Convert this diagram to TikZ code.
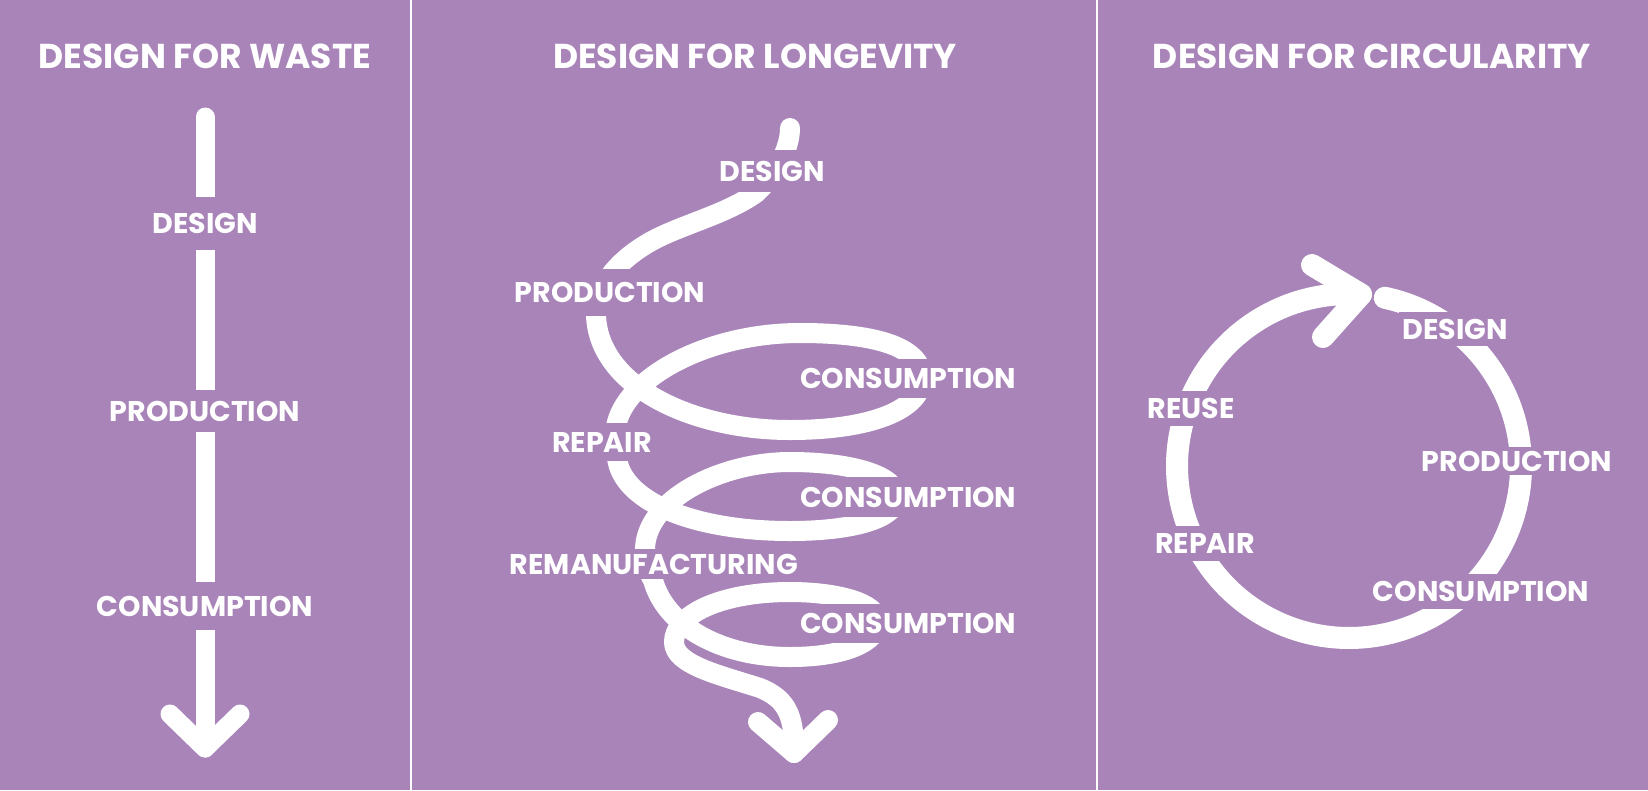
\documentclass[tikz,border=0pt]{standalone}
\usepackage{fontspec}
\setmainfont{Poppins}
\definecolor{bg}{HTML}{A884B9}
\newcommand\lblfont{\bfseries\fontsize{28.5}{28.5}\selectfont}
\newcommand\ttlfont{\bfseries\fontsize{34.5}{34.5}\selectfont}
\newlength\lblcap \newlength\ttlcap
\AtBeginDocument{\settoheight{\lblcap}{\lblfont H}\settoheight{\ttlcap}{\ttlfont H}}
\tikzset{
  lbl/.style={text=white, fill=bg, inner xsep=3pt, inner ysep=0pt, text height=\lblcap, text depth=0pt, font=\lblfont},
  ttl/.style={text=white, inner sep=0pt, text height=\ttlcap, text depth=0pt, font=\ttlfont},
  flowA/.style={draw=white, line width=19pt, line cap=round, line join=round},
  flowB/.style={draw=white, line width=20pt, line cap=round, line join=round},
  flowC/.style={draw=white, line width=22pt, line cap=round, line join=round},
  divider/.style={draw=white, line width=2pt}
}
\begin{document}
\begin{tikzpicture}[x=1pt,y=-1pt]
\fill[bg] (0,0) rectangle (1648,790);
\useasboundingbox (0,0) rectangle (1648,790);
% dividers
\coordinate (d1t) at (411,0); \coordinate (d1b) at (411,790);
\coordinate (d2t) at (1097,0); \coordinate (d2b) at (1097,790);
\draw[divider] (d1t) -- (d1b);
\draw[divider] (d2t) -- (d2b);

% ---------- left panel ----------
\coordinate (wtop) at (205,117);
\coordinate (wtip) at (205,748);
\coordinate (wl) at (170,714);
\coordinate (wr) at (240,714);
\draw[flowA] (wtop) -- (wtip);
\draw[flowA] (wl) -- (wtip) -- (wr);
\node[ttl] (t1) at (205,56) {DESIGN FOR WASTE};
\node[lbl, minimum height=53pt] (wdesign) at (205,223) {DESIGN};
\node[lbl, minimum height=42pt] (wprod) at (205,411) {PRODUCTION};
\node[lbl, minimum height=48pt] (wcons) at (205,606) {CONSUMPTION};

% ---------- middle panel ----------
\coordinate (mtop) at (790,128);
\coordinate (mtip) at (794,753);
\coordinate (ml) at (758,722);
\coordinate (mr) at (828,720);
\draw[flowB] (mtop)
  .. controls (790,150) and (775,175) .. (756,193)
  .. controls (725,215) and (680,225) .. (650,242)
  .. controls (622,258) and (597,282) .. (596,315)
  .. controls (598,385) and (690,430) .. (790,430)
  .. controls (870,430) and (922,410) .. (922,378)
  .. controls (922,345) and (870,333) .. (800,333)
  .. controls (710,333) and (630,375) .. (617,422)
  .. controls (613,436) and (614,448) .. (617,458)
  .. controls (622,500) and (690,531) .. (790,531)
  .. controls (855,531) and (897,518) .. (897,497)
  .. controls (897,475) and (850,462) .. (790,462)
  .. controls (720,462) and (645,500) .. (645,550)
  .. controls (645,562) and (648,572) .. (653,580)
  .. controls (665,625) and (720,657) .. (790,657)
  .. controls (845,657) and (878,642) .. (878,622)
  .. controls (878,602) and (835,592) .. (790,592)
  .. controls (720,592) and (674,615) .. (674,642)
  .. controls (674,665) and (720,675) .. (760,688)
  .. controls (790,700) and (794,720) .. (mtip);
\draw[flowB] (ml) -- (mtip) -- (mr);
\node[ttl] (t2) at (755,56) {DESIGN FOR LONGEVITY};
\node[lbl, minimum height=42pt] (mdesign) at (772,171) {DESIGN};
\node[lbl, minimum height=47pt] (mprod) at (610,292) {PRODUCTION};
\node[lbl, minimum height=39pt, anchor=west] (mcons1) at (797,378) {CONSUMPTION};
\node[lbl, minimum height=38pt] (mrepair) at (602,442) {REPAIR};
\node[lbl, minimum height=40pt, anchor=west] (mcons2) at (797,497) {CONSUMPTION};
\node[lbl, minimum height=30pt] (mreman) at (654,564) {REMANUFACTURING};
\node[lbl, minimum height=39pt, anchor=west] (mcons3) at (797,623) {CONSUMPTION};

% ---------- right panel ----------
\coordinate (cc) at (1349,466);
\coordinate (cstart) at ({1349+172*cos(-78)},{466+172*sin(-78)});
\coordinate (ctip) at ({1349+172*cos(274)},{466+172*sin(274)});
\coordinate (cl) at (1312,265);
\coordinate (cr) at (1323,337);
\draw[flowC] (cstart) -- plot[domain=-78:274, samples=150, smooth] ({1349+172*cos(\x)},{466+172*sin(\x)}) -- (ctip);
\draw[flowC] (cl) -- (ctip) -- (cr);
\node[ttl] (t3) at (1372,56) {DESIGN FOR CIRCULARITY};
\node[lbl, minimum height=34pt] (cdesign) at (1455,329) {DESIGN};
\node[lbl, minimum height=28pt] (cprod) at (1517,461) {PRODUCTION};
\node[lbl, minimum height=35pt] (ccons) at (1481,591) {CONSUMPTION};
\node[lbl, minimum height=35pt] (crepair) at (1205,543) {REPAIR};
\node[lbl, minimum height=35pt] (creuse) at (1191,408) {REUSE};
\end{tikzpicture}
\end{document}
